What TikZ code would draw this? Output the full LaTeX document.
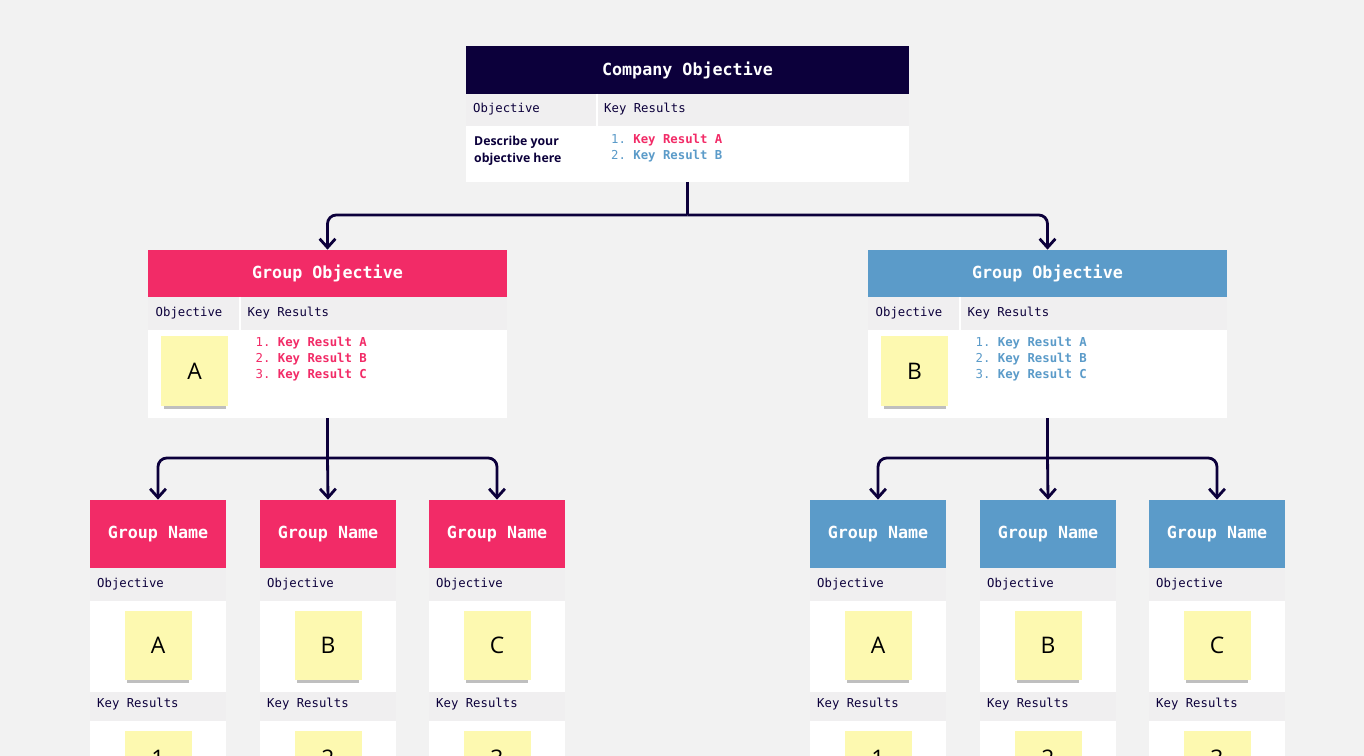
\documentclass[tikz,border=0pt]{standalone}
\usepackage{fontspec}
\setmainfont{Open Sans}
\setmonofont{DejaVu Sans Mono}
\usetikzlibrary{arrows.meta}
\definecolor{navy}{HTML}{0C003B}
\definecolor{pinkg}{HTML}{F22B67}
\definecolor{blueg}{HTML}{5B9BC9}
\definecolor{rowgray}{HTML}{F0EFF0}
\definecolor{bggray}{HTML}{F2F2F2}
\definecolor{sticky}{HTML}{FDF9B0}
\begin{document}
\begin{tikzpicture}[x=0.02cm,y=-0.02cm,
  box/.style 2 args={inner sep=0pt,minimum width=#1*0.02cm,minimum height=#2*0.02cm},
  head/.style={fill=#1,text=white,font=\ttfamily\bfseries\fontsize{9.5}{11}\selectfont},
  row/.style={fill=rowgray},
  lbl/.style={anchor=west,text=navy,font=\ttfamily\fontsize{7}{8}\selectfont},
  kr/.style={anchor=west,font=\ttfamily\bfseries\fontsize{7}{8.5}\selectfont},
  note/.style={fill=sticky,box={67}{69},font=\fontsize{13}{14}\selectfont,text=black!85},
  conn/.style={draw=navy,line width=1.6pt,rounded corners=5pt,-{Straight Barb[length=5pt,width=9pt]}}]
\clip (0,0) rectangle (1364,756);
\fill[bggray] (0,0) rectangle (1364,756);
% sticky note with shadow
\newcommand{\sticky}[3]{%
  \fill[black!50,opacity=.5] (#1-31,#2+34) rectangle (#1+31,#2+38);
  \node[note] (#3) at (#1,#2) {};}
% company objective
\node[box={443}{48},head=navy] (co) at (687.5,70) {Company Objective};
\fill[row] (466,94) rectangle (909,126);
\fill[white] (466,126) rectangle (909,182);
\draw[white,line width=1pt] (597,94) -- (597,126);
\node[lbl] (coo) at (467,109) {Objective};
\node[lbl] (cok) at (598,109) {Key Results};
\node[anchor=north west,text=navy,font=\bfseries\fontsize{7}{9.5}\selectfont,align=left] (cod) at (468,130) {Describe your\\objective here};
\node[kr] (coa) at (605,140) {\textcolor{blueg}{\mdseries 1.} \textcolor{pinkg}{Key Result A}};
\node[kr] (cob) at (605,156) {\textcolor{blueg}{\mdseries 2.} \textcolor{blueg}{Key Result B}};
\coordinate (cs) at (687.5,182);
% group objectives
\foreach \gx/\gc/\gn/\gl in {327.5/pinkg/gl/A, 1047.5/blueg/gr/B}{
  \node[box={359}{47},head=\gc] (\gn) at (\gx,273.5) {Group Objective};
  \fill[row] (\gx-179.5,297) rectangle (\gx+179.5,330);
  \fill[white] (\gx-179.5,330) rectangle (\gx+179.5,418);
  \draw[white,line width=1pt] (\gx-87.5,297) -- (\gx-87.5,330);
  \node[lbl] at (\gx-178,313) {Objective};
  \node[lbl] at (\gx-86,313) {Key Results};
  \sticky{\gx-133}{371}{\gn s}
  \node at (\gn s) {\fontsize{13}{14}\selectfont\gl};
  \foreach \i/\k in {1/A,2/B,3/C}
    \node[kr,text=\gc] at (\gx-78,327+16*\i) {{\mdseries\i.} Key Result \k};
}
% group name cards
\foreach \cx/\cc/\cl/\cn in {158/pinkg/A/1, 328/pinkg/B/2, 497/pinkg/C/3,
                             878/blueg/A/1, 1048/blueg/B/2, 1217/blueg/C/3}{
  \node[box={136}{68},head=\cc] (n\cx) at (\cx,534) {Group Name};
  \fill[row] (\cx-68,568) rectangle (\cx+68,601);
  \fill[white] (\cx-68,601) rectangle (\cx+68,692);
  \fill[row] (\cx-68,692) rectangle (\cx+68,721);
  \fill[white] (\cx-68,721) rectangle (\cx+68,760);
  \node[lbl] at (\cx-67,584) {Objective};
  \node[lbl] at (\cx-67,704) {Key Results};
  \sticky{\cx}{645}{s\cx}
  \node at (s\cx) {\fontsize{13}{14}\selectfont\cl};
  \node[note] (t\cx) at (\cx,765) {};
  \node at (\cx,758) {\fontsize{13}{14}\selectfont\cn};
}
% connectors
\coordinate (j0) at (687.5,215);
\coordinate (j1) at (327.5,458);
\coordinate (j2) at (1047.5,458);
\draw[conn,-] (cs) -- (j0);
\draw[conn] (j0) -| (gl.north);
\draw[conn] (j0) -| (gr.north);
\draw[conn,-] (327.5,418) -- (j1);
\draw[conn] (j1) -| (n158.north);
\draw[conn] (j1) -- (n328.north);
\draw[conn] (j1) -| (n497.north);
\draw[conn,-] (1047.5,418) -- (j2);
\draw[conn] (j2) -| (n878.north);
\draw[conn] (j2) -- (n1048.north);
\draw[conn] (j2) -| (n1217.north);
\end{tikzpicture}
\end{document}
